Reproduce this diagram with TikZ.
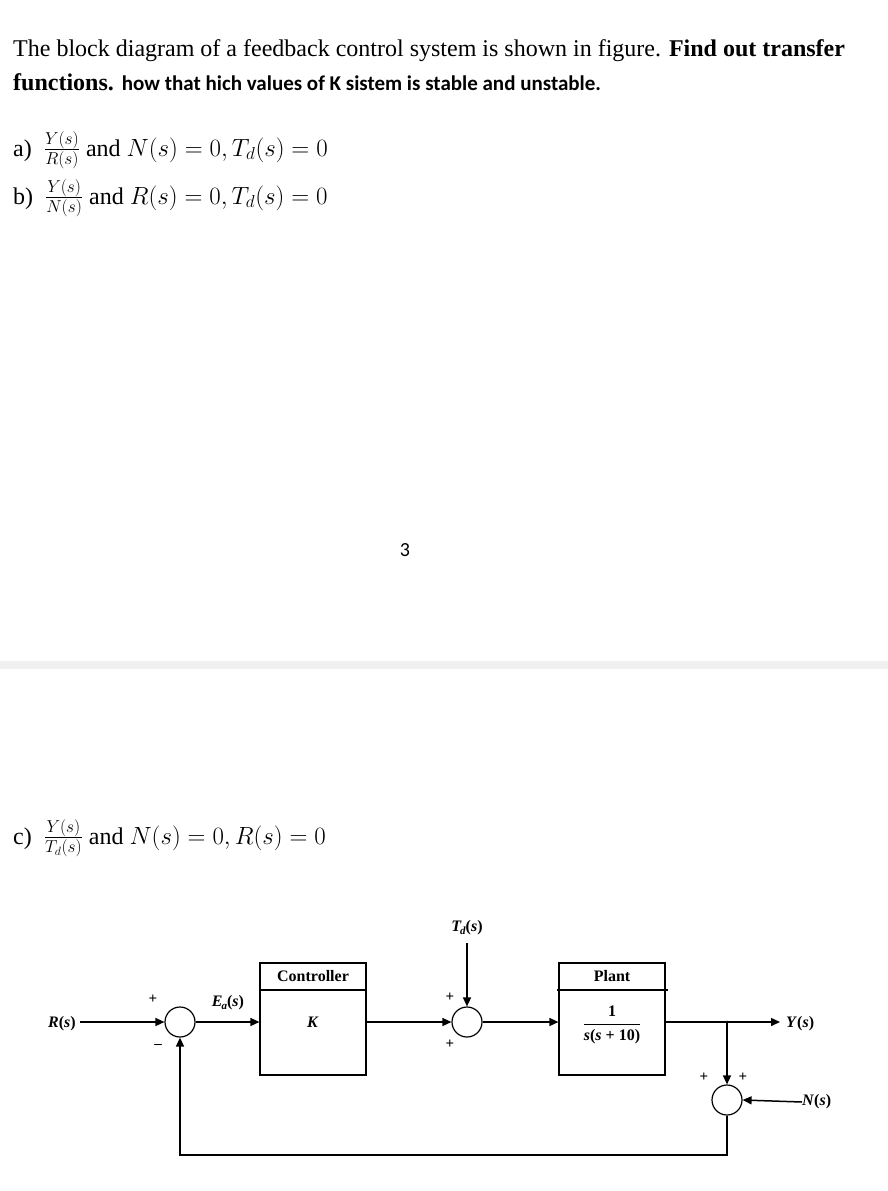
\documentclass[tikz,border=0pt]{standalone}
\usepackage{amsmath}
\usepackage{fontspec}
\setmainfont{Liberation Serif}
\newfontfamily\calib{Carlito}
\usetikzlibrary{arrows.meta}
\begin{document}
\begin{tikzpicture}[x={(1pt,0)},y={(0,-1pt)},
  txt/.style={anchor=west,inner sep=0pt,font=\fontsize{24}{28}\selectfont},
  sumc/.style={circle,draw,line width=1.2pt,minimum size=30pt,inner sep=0pt},
  blk/.style={draw,line width=1.2pt,minimum width=106pt,minimum height=112pt,inner sep=0pt},
  sig/.style={line width=1.5pt,-{Triangle[length=9pt,width=8pt]}},
  lab/.style={font=\bfseries\fontsize{16}{18}\selectfont,inner sep=0pt},
  sgn/.style={font=\bfseries\fontsize{15}{16}\selectfont,inner sep=0pt}]
\useasboundingbox (0,0) rectangle (888,1191);
\fill[gray!12] (0,661) rectangle (888,669);
\node[txt] (t1) at (13,51) {The block diagram of a feedback control system is shown in figure. \textbf{Find out transfer}};
\node[txt] (t2) at (13,82) {\textbf{functions.} {\calib\bfseries\fontsize{21}{24}\selectfont how that hich values of K sistem is stable and unstable.}};
\node[txt] (a) at (13,150) {a)\ \ $\frac{Y(s)}{R(s)}$ and $N(s)=0, T_d(s)=0$};
\node[txt] (b) at (13,198) {b)\ \ $\frac{Y(s)}{N(s)}$ and $R(s)=0, T_d(s)=0$};
\node[inner sep=0pt,font=\calib\fontsize{20}{24}\selectfont] (pg) at (405,550) {3};
\node[txt] (c) at (13,838) {c)\ \ $\frac{Y(s)}{T_d(s)}$ and $N(s)=0, R(s)=0$};
% diagram
\node[lab] (R) at (62,1024) {\textit{R}(\textit{s})};
\node[sumc] (s1) at (180,1022) {};
\node[blk] (ctl) at (313,1019) {};
\draw[line width=1.2pt] (260,990) -- (366,990);
\node[lab] (ctlt) at (313,976) {Controller};
\node[lab] (K) at (313,1022) {\textit{K}};
\node[sumc] (s2) at (467,1022) {};
\node[blk] (pl) at (612,1019) {};
\draw[line width=1.2pt] (557,990) -- (668,990);
\node[lab] (plt) at (612,976) {Plant};
\node[lab] (pf) at (612,1025) {$\dfrac{\text{1}}{\textit{s}\text{(}\textit{s}\text{ + 10)}}$};
\node[sumc] (s3) at (727,1100) {};
\coordinate (br) at (727,1022);
\coordinate (ye) at (780,1022);
\node[lab,anchor=west] (Y) at (786,1024) {\textit{Y}(\textit{s})};
\node[lab,anchor=west] (N) at (802,1102) {\textit{N}(\textit{s})};
\node[lab] (Td) at (467,928) {\textit{T\kern-1pt\raisebox{-3pt}{\fontsize{11}{12}\selectfont d}}(\textit{s})};
\coordinate (tdt) at (467,943);
\coordinate (fb1) at (727,1155);
\coordinate (fb2) at (180,1155);
\node[lab] (Ea) at (228,1003) {\textit{E\kern-1pt\raisebox{-3pt}{\fontsize{11}{12}\selectfont a}}(\textit{s})};
\node[sgn] at (153,999) {+};
\node[sgn] at (158,1046) {--};
\node[sgn] at (450,997) {+};
\node[sgn] at (450,1044) {+};
\node[sgn] at (704,1077) {+};
\node[sgn] at (743,1077) {+};
\draw[sig] (R.east)++(4,-2) -- (s1.west);
\draw[sig] (s1.east) -- (ctl.west |- s1);
\draw[sig] (ctl.east |- s2) -- (s2.west);
\draw[sig] (s2.east) -- (pl.west |- s2);
\draw[sig] (pl.east |- br) -- (ye);
\draw[sig] (br) -- (s3.north);
\draw[sig] (N.west) -- (s3.east);
\draw[sig] (tdt) -- (s2.north);
\draw[sig] (s3.south) -- (fb1) -- (fb2) -- (s1.south);
\fill (br) circle (1.5pt);
\end{tikzpicture}
\end{document}
